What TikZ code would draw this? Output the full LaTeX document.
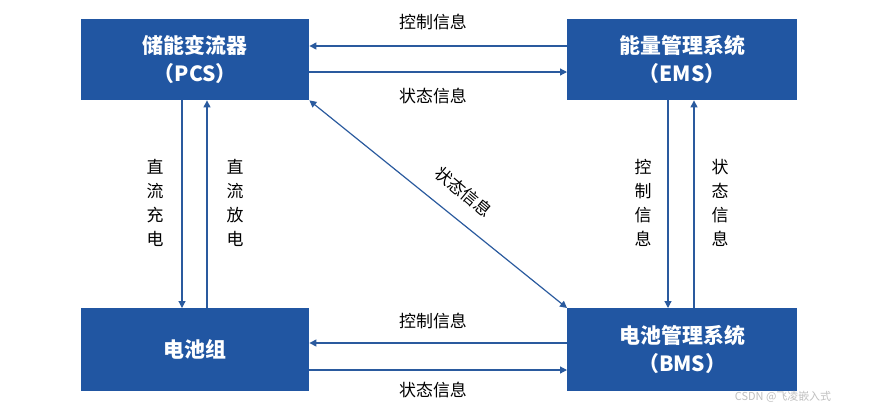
\documentclass[tikz,border=0pt]{standalone}
\usepackage{fontspec}
\setmainfont{Liberation Serif}
\newfontfamily\cjk{Noto Sans CJK SC}
\usetikzlibrary{arrows.meta}
\definecolor{boxblue}{HTML}{2156A2}
\definecolor{arrblue}{HTML}{2A5A9E}
\tikzset{
  blk/.style={fill=boxblue,draw=none,text=white,font=\cjk\bfseries\fontsize{21}{28}\selectfont,align=center,anchor=north west},
  lab/.style={font=\cjk\fontsize{17}{20}\selectfont,text=black},
  vlab/.style={font=\cjk\fontsize{17}{24}\selectfont,text=black,align=center},
  con/.style={draw=arrblue,line width=1.2pt,-{Triangle[length=7pt,width=7pt]}}
}
\begin{document}
\begin{tikzpicture}[x=1bp,y=-1bp]
\useasboundingbox (0,0) rectangle (870,412);
\node[blk,minimum width=228bp,minimum height=81bp] (pcs) at (81,19) {储能变流器\\（PCS）};
\node[blk,minimum width=230bp,minimum height=81bp] (ems) at (567,19) {能量管理系统\\（EMS）};
\node[blk,minimum width=228bp,minimum height=83bp] (bat) at (81,308) {电池组};
\node[blk,minimum width=230bp,minimum height=83bp] (bms) at (567,308) {电池管理系统\\（BMS）};
% top
\draw[con] (ems.west |- 0,46) -- (pcs.east |- 0,46);
\draw[con] (pcs.east |- 0,72) -- (ems.west |- 0,72);
\node[lab] (t1) at (433,22) {控制信息};
\node[lab] (t2) at (433,96) {状态信息};
% bottom
\draw[con] (bms.west |- 0,343) -- (bat.east |- 0,343);
\draw[con] (bat.east |- 0,370) -- (bms.west |- 0,370);
\node[lab] (b1) at (433,321) {控制信息};
\node[lab] (b2) at (433,390) {状态信息};
% left vertical
\draw[con] (pcs.south -| 182,0) -- (bat.north -| 182,0);
\draw[con] (bat.north -| 207,0) -- (pcs.south -| 207,0);
\node[vlab] (l1) at (155,203) {直\\流\\充\\电};
\node[vlab] (l2) at (235,203) {直\\流\\放\\电};
% right vertical
\draw[con] (ems.south -| 668,0) -- (bms.north -| 668,0);
\draw[con] (bms.north -| 694,0) -- (ems.south -| 694,0);
\node[vlab] (r1) at (643,203) {控\\制\\信\\息};
\node[vlab] (r2) at (720,203) {状\\态\\信\\息};
% diagonal
\draw[con,{Triangle[length=7pt,width=7pt]}-{Triangle[length=7pt,width=7pt]}] (pcs.south east) -- (bms.north west);
\node[lab,rotate=-40] (d) at (464,192) {状态信息};
\node[font=\fontsize{11}{13}\selectfont\cjk,text=gray!50] (wm) at (783,397) {CSDN @飞凌嵌入式};
\end{tikzpicture}
\end{document}
